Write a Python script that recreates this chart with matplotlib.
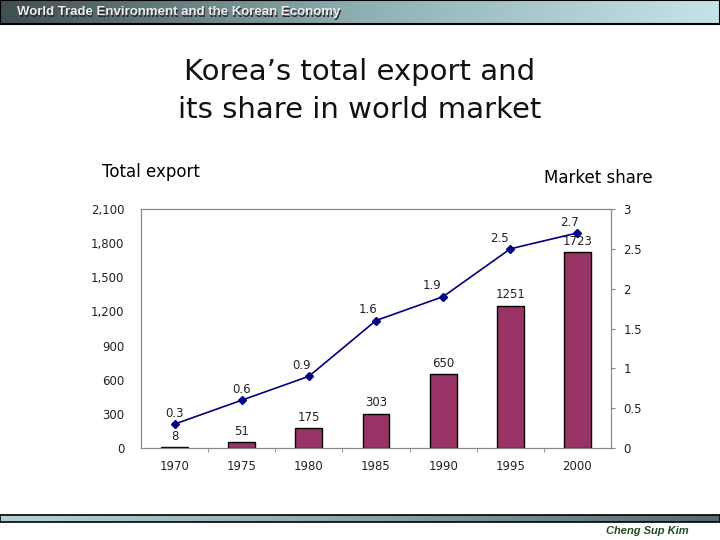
import numpy as np
import matplotlib.pyplot as plt
from matplotlib.colors import LinearSegmentedColormap

years = ['1970', '1975', '1980', '1985', '1990', '1995', '2000']
export = [8, 51, 175, 303, 650, 1251, 1723]
share = [0.3, 0.6, 0.9, 1.6, 1.9, 2.5, 2.7]
left_ticks = [0, 300, 600, 900, 1200, 1500, 1800, 2100]
right_ticks = [0, 0.5, 1, 1.5, 2, 2.5, 3]
right_labels = ['0', '0.5', '1', '1.5', '2', '2.5', '3']
# small nudges for the share labels (points)
share_dx = [0, 0, -5, -6, -8, -8, -6]

W, H = 720, 540
fig = plt.figure(figsize=(7.2, 5.4), dpi=100)
fig.patch.set_facecolor('white')

# header band
hdr = fig.add_axes([0, 1 - 24 / H, 1, 24 / H])
cm = LinearSegmentedColormap.from_list('hdr', ['#3f4f52', '#8fb0b3', '#c4e4e7'])
hdr.imshow(np.linspace(0, 1, 256)[None, :], aspect='auto', cmap=cm, extent=[0, 1, 0, 1])
hdr.set_xlim(0, 1)
hdr.set_ylim(0, 1)
hdr.set_xticks([])
hdr.set_yticks([])
for s in hdr.spines.values():
    s.set_color('black')
    s.set_linewidth(1.5)
title_txt = 'World Trade Environment and the Korean Economy'
hdr.text(0.0245, 0.42, title_txt, color='#2a2a2a', fontsize=9.5, fontweight='bold',
         family='Liberation Sans', va='center', ha='left', transform=hdr.transAxes)
hdr.text(0.0235, 0.48, title_txt, color='#ececec', fontsize=9.5, fontweight='bold',
         family='Liberation Sans', va='center', ha='left', transform=hdr.transAxes)

# footer band
ftr = fig.add_axes([0, 1 - 522 / H, 1, 7 / H])
cm2 = LinearSegmentedColormap.from_list('ftr', ['#b4d3d5', '#8aa5a8', '#566a6d'])
ftr.imshow(np.linspace(0, 1, 256)[None, :], aspect='auto', cmap=cm2, extent=[0, 1, 0, 1])
ftr.set_xticks([])
ftr.set_yticks([])
for s in ftr.spines.values():
    s.set_color('black')
    s.set_linewidth(1.2)
fig.text(647 / W, 1 - 531 / H, 'Cheng Sup Kim', color='#1f4d1f', fontsize=8,
         fontweight='bold', style='italic', family='Liberation Sans',
         ha='center', va='center')

# titles
fig.text(360 / W, 1 - 91 / H, "Korea\u2019s total export and\nits share in world market",
         ha='center', va='center', fontsize=21, linespacing=1.45, color='#111111')
fig.text(102 / W, 1 - 172 / H, 'Total export', fontsize=12, ha='left', va='center')
fig.text(544 / W, 1 - 178 / H, 'Market share', fontsize=12, ha='left', va='center')

# chart
ax = fig.add_axes([141 / W, 1 - 448 / H, 470 / W, 239 / H])
x = np.arange(len(years))
ax.bar(x, export, width=0.4, color='#993366', edgecolor='black', linewidth=1, zorder=2)
for xi, v in zip(x, export):
    ax.annotate(str(v), (xi, v), xytext=(0, 3), textcoords='offset points',
                ha='center', va='bottom', fontsize=8.5, color='#222222')
ax.set_xlim(-0.5, len(years) - 0.5)
ax.set_ylim(0, 2100)
ax.set_yticks(left_ticks)
ax.set_yticklabels([f'{t:,}' for t in left_ticks])
ax.set_xticks(x)
ax.set_xticklabels(years)
ax.set_xticks(x[:-1] + 0.5, minor=True)
ax.tick_params(axis='x', which='major', length=0, pad=9, labelsize=8.5, labelcolor='#222222')
ax.tick_params(axis='x', which='minor', length=3, color='#888888', direction='out')
ax.tick_params(axis='y', length=0, pad=12, labelsize=8.5, labelcolor='#222222')
for s in ax.spines.values():
    s.set_color('#888888')

ax2 = ax.twinx()
ax2.plot(x, share, color='#000080', linewidth=1.2, marker='D', markersize=4.5,
         markerfacecolor='#000080', zorder=3)
for xi, v, dx in zip(x, share, share_dx):
    ax2.annotate(f'{v:g}', (xi, v), xytext=(dx, 3), textcoords='offset points',
                 ha='center', va='bottom', fontsize=8.5, color='#222222')
ax2.set_ylim(0, 3)
ax2.set_yticks(right_ticks)
ax2.set_yticklabels(right_labels)
ax2.tick_params(axis='y', length=3, direction='out', color='#888888', pad=6,
                labelsize=8.5, labelcolor='#222222')
for s in ax2.spines.values():
    s.set_color('#888888')

fig.savefig('out.png', dpi=100)
